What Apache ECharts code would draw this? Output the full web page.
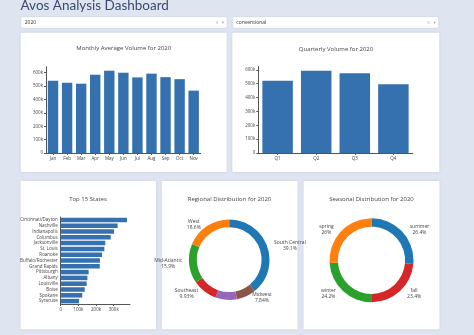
<!DOCTYPE html>
<html>
<head>
<meta charset="utf-8">
<script src="https://cdn.jsdelivr.net/npm/echarts@6/dist/echarts.min.js"></script>
<style>
html,body{margin:0;padding:0;background:#dfe5f0;}
#chart{width:474px;height:335px;}
</style>
</head>
<body>
<div id="chart"></div>
<script>
// ---- data ----
const months = ['Jan','Feb','Mar','Apr','May','Jun','Jul','Aug','Sep','Oct','Nov'];
const monthlyVolume = [540000, 525000, 518000, 585000, 615000, 600000, 565000, 593000, 567000, 552000, 466000];
const quarters = ['Q1','Q2','Q3','Q4'];
const quarterlyVolume = [521000, 593000, 574000, 495000];
const states = ['Cincinnati/Dayton','Nashville','Indianapolis','Columbus','Jacksonville','St. Louis','Roanoke','Buffalo/Rochester','Grand Rapids','Pittsburgh','Albany','Louisville','Boise','Spokane','Syracuse'];
const stateVolume = [375000, 322000, 302000, 283000, 252000, 247000, 234000, 222000, 221000, 158000, 151000, 147000, 136000, 122000, 104000];
const regions = ['South Central','Midwest','Northeast','Southeast','Mid-Atlantic','West'];
const regionShare = [39.1, 7.84, 8.6, 9.93, 15.9, 18.6];
const seasons = ['summer','fall','winter','spring'];
const seasonShare = [26.4, 23.4, 24.2, 26];
const volumeTicks = [0, 100000, 200000, 300000, 400000, 500000, 600000];
const stateTicks = [0, 100000, 200000, 300000];

// ---- styles ----
const regionColors = ['#1f77b4','#8c564b','#9467bd','#d62728','#2ca02c','#ff7f0e'];
const seasonColors = ['#1f77b4','#d62728','#2ca02c','#ff7f0e'];
const barColor = '#3571ae';
const axisColor = '#555';
const textColor = '#444';
const chartFont = 'Open Sans';

const kfmt = v => v === 0 ? '0' : (v / 1000) + 'k';

function valueAxis(extra) {
  return Object.assign({
    type: 'value', min: 0,
    axisLine: {show: true, lineStyle: {color: axisColor, width: 1}},
    axisTick: {show: true, length: 2, lineStyle: {color: axisColor}, customValues: volumeTicks},
    axisLabel: {fontSize: 4.5, color: textColor, fontFamily: chartFont, margin: 3, formatter: kfmt, customValues: volumeTicks},
    splitLine: {show: false}
  }, extra);
}
function catAxis(extra) {
  return Object.assign({
    type: 'category',
    axisLine: {show: true, lineStyle: {color: axisColor, width: 1}},
    axisTick: {show: true, length: 2, alignWithLabel: true, lineStyle: {color: axisColor}},
    axisLabel: {fontSize: 4.5, color: textColor, fontFamily: chartFont, margin: 3, interval: 0},
    splitLine: {show: false}
  }, extra);
}

function panel(x, y, w, h) {
  return {type: 'rect', z: 0, silent: true, shape: {x: x, y: y, width: w, height: h, r: 1},
    style: {fill: '#fff', shadowBlur: 3, shadowColor: 'rgba(40,60,100,0.12)'}};
}
function ptitle(x, y, t) {
  return {type: 'text', z: 5, silent: true, style: {x: x, y: y, text: t, fill: textColor, font: '6px "Open Sans"', align: 'center', verticalAlign: 'middle'}};
}
function dropdown(x, y, w, h, t) {
  return [
    {type: 'rect', z: 1, silent: true, shape: {x: x, y: y, width: w, height: h, r: 2}, style: {fill: '#fff', stroke: '#cbd4e4', lineWidth: 0.8}},
    {type: 'text', z: 2, silent: true, style: {x: x + 4, y: y + h / 2, text: t, fill: '#333', font: '5px "Open Sans"', verticalAlign: 'middle'}},
    {type: 'text', z: 2, silent: true, style: {x: x + w - 12, y: y + h / 2, text: '×  ▾', fill: '#aaa', font: '4.5px "DejaVu Sans"', verticalAlign: 'middle'}}
  ];
}

function pieLabel(p) {
  const s = String(Number(p.percent.toPrecision(3)));
  return '{a|' + p.name + '}\n{a|' + s + '%}';
}
const pieLabelStyle = {
  show: true, position: 'outside', formatter: pieLabel, color: textColor,
  fontFamily: chartFont, fontSize: 5, lineHeight: 6,
  rich: {a: {align: 'center', fontSize: 5, lineHeight: 6, color: textColor, fontFamily: chartFont}}
};

const chart = echarts.init(document.getElementById('chart'), null, {renderer: 'canvas'});
chart.setOption({
  animation: false,
  backgroundColor: '#dfe5f0',
  graphic: [
    {type: 'text', z: 5, silent: true, style: {x: 20.5, y: 13, text: 'Avos Analysis Dashboard', fill: '#3b4a6e', font: '13.5px Lato', verticalAlign: 'bottom'}},
    ...dropdown(20.7, 16.6, 206.5, 11.7, '2020'),
    ...dropdown(232.3, 16.6, 206.5, 11.7, 'conventional'),
    panel(20.7, 32.7, 206, 139.3),
    panel(232.3, 32.7, 207, 139.3),
    panel(20.5, 181, 135.5, 148.3),
    panel(161.8, 181, 135.7, 148.3),
    panel(303.5, 181, 136, 148.3),
    ptitle(123.7, 48.7, 'Monthly Average Volume for 2020'),
    ptitle(336, 49, 'Quarterly Volume for 2020'),
    ptitle(88, 199, 'Top 15 States'),
    ptitle(229.5, 199, 'Regional Distribution for 2020'),
    ptitle(371.5, 199, 'Seasonal Distribution for 2020')
  ],
  grid: [
    {left: 46, top: 66.7, width: 154.7, height: 86.3},
    {left: 258.3, top: 66.7, width: 154.4, height: 86.3},
    {left: 60.7, top: 217, width: 69.3, height: 87}
  ],
  xAxis: [
    catAxis({gridIndex: 0, data: months}),
    catAxis({gridIndex: 1, data: quarters}),
    valueAxis({gridIndex: 2, max: 392000,
      axisTick: {show: true, length: 2, lineStyle: {color: axisColor}, customValues: stateTicks},
      axisLabel: {fontSize: 4.5, color: textColor, fontFamily: chartFont, margin: 3, formatter: kfmt, customValues: stateTicks}})
  ],
  yAxis: [
    valueAxis({gridIndex: 0, max: 645000}),
    valueAxis({gridIndex: 1, max: 622000}),
    catAxis({gridIndex: 2, data: states, inverse: true, axisTick: {show: false}})
  ],
  series: [
    {type: 'bar', xAxisIndex: 0, yAxisIndex: 0, data: monthlyVolume, barCategoryGap: '26%', itemStyle: {color: barColor}, silent: true},
    {type: 'bar', xAxisIndex: 1, yAxisIndex: 1, data: quarterlyVolume, barCategoryGap: '21%', itemStyle: {color: barColor}, silent: true},
    {type: 'bar', xAxisIndex: 2, yAxisIndex: 2, data: stateVolume, barCategoryGap: '22%', itemStyle: {color: barColor}, silent: true},
    {type: 'pie', center: [229.2, 259.7], radius: [32.4, 40.3], startAngle: 90, clockwise: true, silent: true,
      avoidLabelOverlap: false,
      data: regions.map((n, i) => ({name: n, value: regionShare[i], itemStyle: {color: regionColors[i]}})),
      label: pieLabelStyle, labelLine: {show: false, length: 2, length2: 0}},
    {type: 'pie', center: [371.5, 260.3], radius: [33.6, 42], startAngle: 90, clockwise: true, silent: true,
      avoidLabelOverlap: false,
      data: seasons.map((n, i) => ({name: n, value: seasonShare[i], itemStyle: {color: seasonColors[i]}})),
      label: pieLabelStyle, labelLine: {show: false, length: 3, length2: 0}}
  ]
});
</script>
</body>
</html>
